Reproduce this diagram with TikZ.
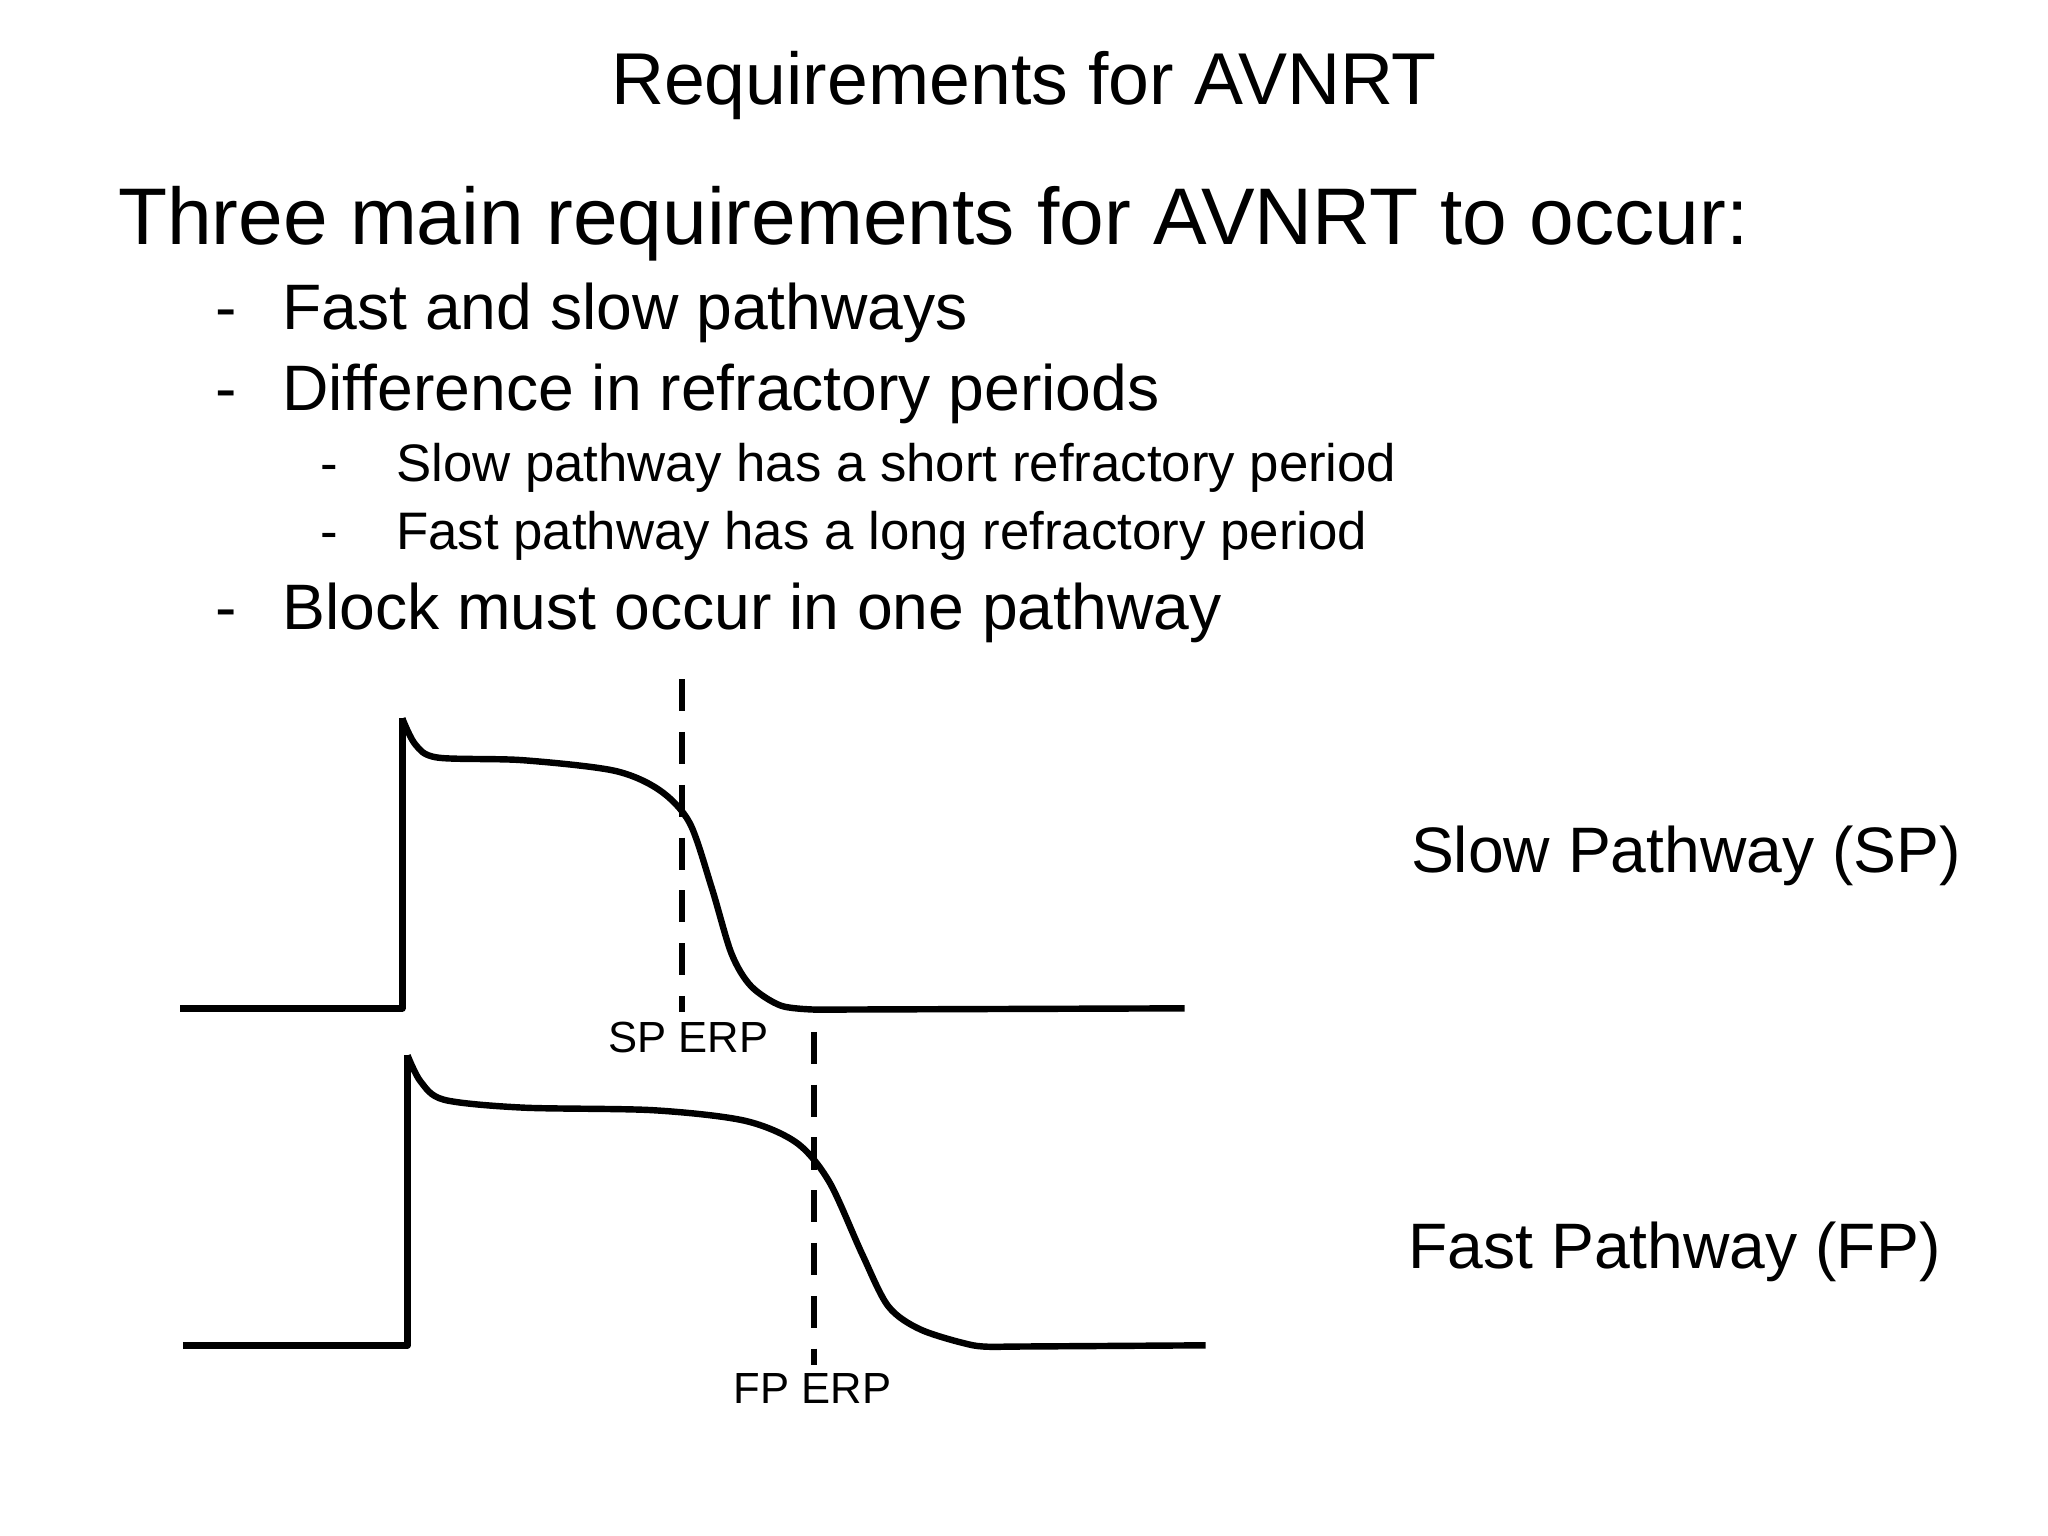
\documentclass[tikz,border=0pt]{standalone}
\usepackage{fontspec}
\setmainfont{Liberation Sans}
\begin{document}
\begin{tikzpicture}[x=0.02cm,y=-0.02cm,
  wave/.style={line width=2.8pt,line join=round},
  erp/.style={line width=2.6pt,dash pattern=on 14pt off 9pt},
  lbl/.style={anchor=base west,inner sep=0pt}]
\useasboundingbox (0,0) rectangle (1568,1176);
\node[anchor=base,inner sep=0pt,font=\fontsize{32}{38}\selectfont] (title) at (784,80) {Requirements for AVNRT};
\node[lbl,font=\fontsize{35}{42}\selectfont] (h) at (90,187) {Three main requirements for AVNRT to occur:};
\node[lbl,font=\fontsize{28}{34}\selectfont] (b1) at (165,252) {-\hspace{0.7em}Fast and slow pathways};
\node[lbl,font=\fontsize{28}{34}\selectfont] (b2) at (165,314) {-\hspace{0.7em}Difference in refractory periods};
\node[lbl,font=\fontsize{23}{28}\selectfont] (s1) at (245,369) {-\hspace{1.1em}Slow pathway has a short refractory period};
\node[lbl,font=\fontsize{23}{28}\selectfont] (s2) at (245,421) {-\hspace{1.1em}Fast pathway has a long refractory period};
\node[lbl,font=\fontsize{28}{34}\selectfont] (b3) at (165,482) {-\hspace{0.7em}Block must occur in one pathway};
\node[lbl,font=\fontsize{28}{34}\selectfont] (sp) at (1080,668) {Slow Pathway (SP)};
\node[lbl,font=\fontsize{28}{34}\selectfont] (fp) at (1078,971) {Fast Pathway (FP)};
% SP wave
\draw[wave] (138,772) -- (308,772) -- (308,550);
\draw[wave] plot[smooth,tension=0.5] coordinates {(308,550) (318,570) (335,580) (400,582) (470,590) (505,605) (528,630) (545,680) (560,730) (575,755) (598,770) (625,773)} -- (907,772);
% FP wave
\draw[wave] (140,1030) -- (312,1030) -- (312,808);
\draw[wave] plot[smooth,tension=0.5] coordinates {(312,808) (322,828) (340,842) (400,848) (500,850) (570,858) (610,875) (635,905) (660,960) (680,1000) (705,1018) (745,1030) (770,1031)} -- (923,1030);
% ERP lines
\coordinate (spt) at (522,520); \coordinate (spb) at (522,775);
\coordinate (fpt) at (623,790); \coordinate (fpb) at (623,1045);
\draw[erp] (spt) -- (spb);
\draw[erp] (fpt) -- (fpb);
\node[inner sep=0pt,font=\fontsize{19}{23}\selectfont] (spl) at (527,794) {SP ERP};
\node[inner sep=0pt,font=\fontsize{19}{23}\selectfont] (fpl) at (622,1063) {FP ERP};
\end{tikzpicture}
\end{document}
